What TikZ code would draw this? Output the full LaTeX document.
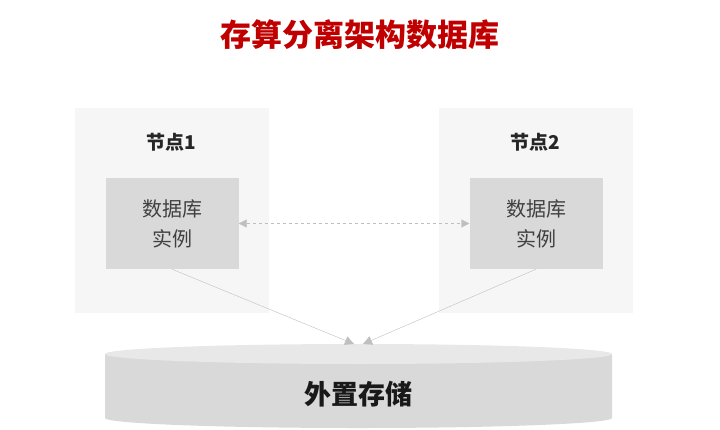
\documentclass[tikz,border=0pt]{standalone}
\usepackage{fontspec}
\setmainfont{Noto Sans CJK SC}
\usetikzlibrary{arrows.meta}
\usetikzlibrary{positioning}

\definecolor{titlered}{HTML}{C00000}
\definecolor{panelgray}{HTML}{F6F6F6}
\definecolor{boxgray}{HTML}{D9D9D9}
\definecolor{linegray}{HTML}{BFBFBF}
\definecolor{textgray}{HTML}{404040}
\definecolor{topgray}{HTML}{E8E8E8}

\tikzset{
  titletext/.style={text=titlered, font=\fontsize{31}{34}\selectfont\bfseries},
  panel/.style={fill=panelgray, minimum width=194pt, minimum height=205pt},
  nodelabel/.style={text=black!85, font=\fontsize{19}{21}\selectfont\bfseries},
  instbox/.style={fill=boxgray, minimum width=133pt, minimum height=91pt,
    text=textgray, align=center, font=\fontsize{20}{30}\selectfont},
  dasharrow/.style={draw=linegray, dashed, {Triangle[length=8pt,width=8pt]}-{Triangle[length=8pt,width=8pt]}},
  feedarrow/.style={draw=linegray, -{Triangle[length=9pt,width=9pt]}},
  storetext/.style={text=black!90, font=\fontsize{27}{30}\selectfont\bfseries}
}

\begin{document}
\begin{tikzpicture}[x=1pt,y=-1pt]
\useasboundingbox (0,0) rectangle (720,429);

% Title
\node[titletext] (title) at (360,35) {存算分离架构数据库};

% The two compute nodes
\foreach \name/\cx/\num in {a/171.5/1, b/535.5/2} {
    \node[panel] (panel\name) at (\cx,210.5) {};
    \node[nodelabel] (label\name) at (\cx,142) {节点\num};
    \node[instbox] (inst\name) at (\cx+0.5,223.5) {数据库\\实例};
}

% Shared storage (cylinder)
\def\cylrx{253.5}
\def\cylry{10}
\fill[boxgray] (105,354) -- (105,418)
    arc[start angle=180, end angle=360, x radius=\cylrx pt, y radius=\cylry pt]
    -- (612,354) -- cycle;
\fill[topgray] (358.5,354) ellipse[x radius=\cylrx pt, y radius=\cylry pt];
\node[storetext] (store) at (358.5,394) {外置存储};
\coordinate (topl) at (354,344);
\coordinate (topr) at (363,344);

% Connectors
\draw[dasharrow] (insta) -- (instb);
\draw[feedarrow] (insta.south) -- (topl);
\draw[feedarrow] (instb.south) -- (topr);
\end{tikzpicture}
\end{document}
